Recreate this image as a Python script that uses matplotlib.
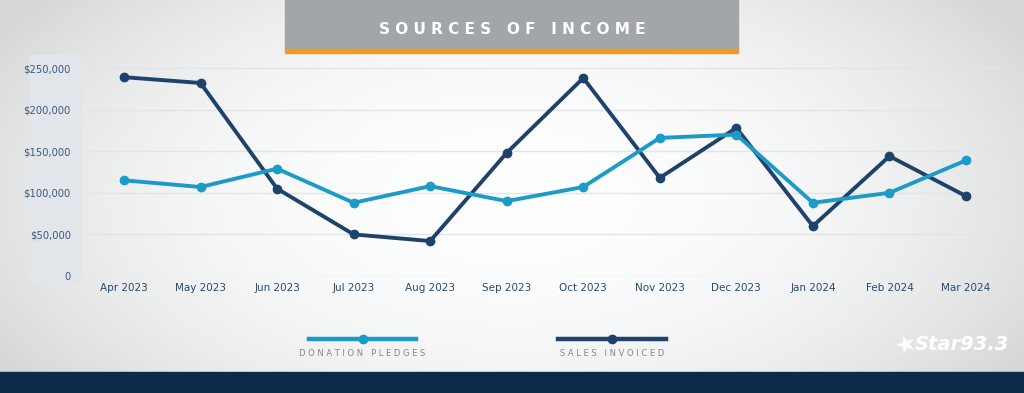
import numpy as np
import matplotlib.pyplot as plt
from matplotlib.patches import Rectangle

months = ["Apr 2023", "May 2023", "Jun 2023", "Jul 2023", "Aug 2023", "Sep 2023",
          "Oct 2023", "Nov 2023", "Dec 2023", "Jan 2024", "Feb 2024", "Mar 2024"]
donation_pledges = [115000, 107000, 129000, 88000, 108000, 90000,
                    107000, 166000, 170000, 88000, 100000, 139000]
sales_invoiced = [239000, 232000, 105000, 50000, 42000, 148000,
                  238000, 118000, 178000, 60000, 144000, 96000]
y_ticks = [0, 50000, 100000, 150000, 200000, 250000]
y_tick_labels = ["0", "$50,000", "$100,000", "$150,000", "$200,000", "$250,000"]

LIGHT = "#1d9bc8"
NAVY = "#1f426c"
W, H = 1024, 393


def spaced(s):
    return " ".join(s)


fig = plt.figure(figsize=(W / 100, H / 100), dpi=100)

# background gradient
bg = fig.add_axes([0, 0, 1, 1])
bg.set_axis_off()
yy, xx = np.mgrid[0:1:200j, 0:1:400j]
d = np.sqrt(((xx - 0.5) / 0.58) ** 2 + ((yy - 0.5) / 0.8) ** 2)
shade = 1.0 - 0.15 * np.clip(d, 0, 1) ** 2.2
img = np.dstack([shade * 0.995, shade * 0.997, shade])
bg.imshow(img, extent=[0, W, 0, H], aspect="auto", origin="upper")
bg.set_xlim(0, W)
bg.set_ylim(H, 0)

# title box
bg.add_patch(Rectangle((285, 0), 453, 50, color="#a2a5aa", zorder=2))
bg.add_patch(Rectangle((285, 49), 453, 4, color="#f39a1f", zorder=3))
bg.text(512, 29, spaced("SOURCES OF INCOME"), ha="center", va="center",
        color="white", fontsize=11, fontweight="bold", family="DejaVu Sans", zorder=4)

# y label band
bg.add_patch(Rectangle((30, 55), 51, 228, color="#e2e5e9", zorder=2))

# bottom bar
bg.add_patch(Rectangle((0, 372), W, 21, color="#0e2a4b", zorder=2))

# legend
bg.plot([309, 416], [339, 339], color=LIGHT, lw=3.2, zorder=3)
bg.plot([363], [339], "o", color=LIGHT, ms=6, zorder=4)
bg.text(362, 354, spaced("DONATION PLEDGES"), ha="center", va="center",
        color="#80868e", fontsize=6, zorder=4)
bg.plot([558, 666], [339, 339], color=NAVY, lw=3.2, zorder=3)
bg.plot([612], [339], "o", color=NAVY, ms=6, zorder=4)
bg.text(612, 354, spaced("SALES INVOICED"), ha="center", va="center",
        color="#80868e", fontsize=6, zorder=4)

# logo
bg.text(906, 345, "\u2605", ha="center", va="center", color="white",
        fontsize=17, rotation=20, zorder=4)
bg.text(962, 344, "Star93.3", ha="center", va="center", color="white",
        fontsize=14, fontweight="bold", style="italic", zorder=4)

# chart
x = np.arange(len(months))
ax = fig.add_axes([86 / W, (H - 276) / H, 914 / W, (276 - 59.7) / H])
ax.patch.set_alpha(0)
ax.plot(x, sales_invoiced, color=NAVY, lw=2.8, marker="o", ms=6, zorder=3)
ax.plot(x, donation_pledges, color=LIGHT, lw=2.8, marker="o", ms=6, zorder=4)
ax.set_xlim(-0.496, 11.444)
ax.set_ylim(0, 260000)
ax.set_yticks(y_ticks)
ax.set_yticklabels(y_tick_labels)
ax.set_xticks(x)
ax.set_xticklabels(months)
ax.grid(axis="y", color="#e2e4e7", lw=1)
ax.set_axisbelow(True)
for s in ax.spines.values():
    s.set_visible(False)
ax.tick_params(axis="both", length=0)
ax.tick_params(axis="x", pad=5, labelsize=7.5, labelcolor="#2b4a72")
ax.tick_params(axis="y", pad=11, labelsize=8, labelcolor="#3d5a80")
for lab in ax.get_yticklabels():
    lab.set_family("DejaVu Sans")
    lab.set_fontstretch("condensed")

fig.savefig("out.png", dpi=100)
